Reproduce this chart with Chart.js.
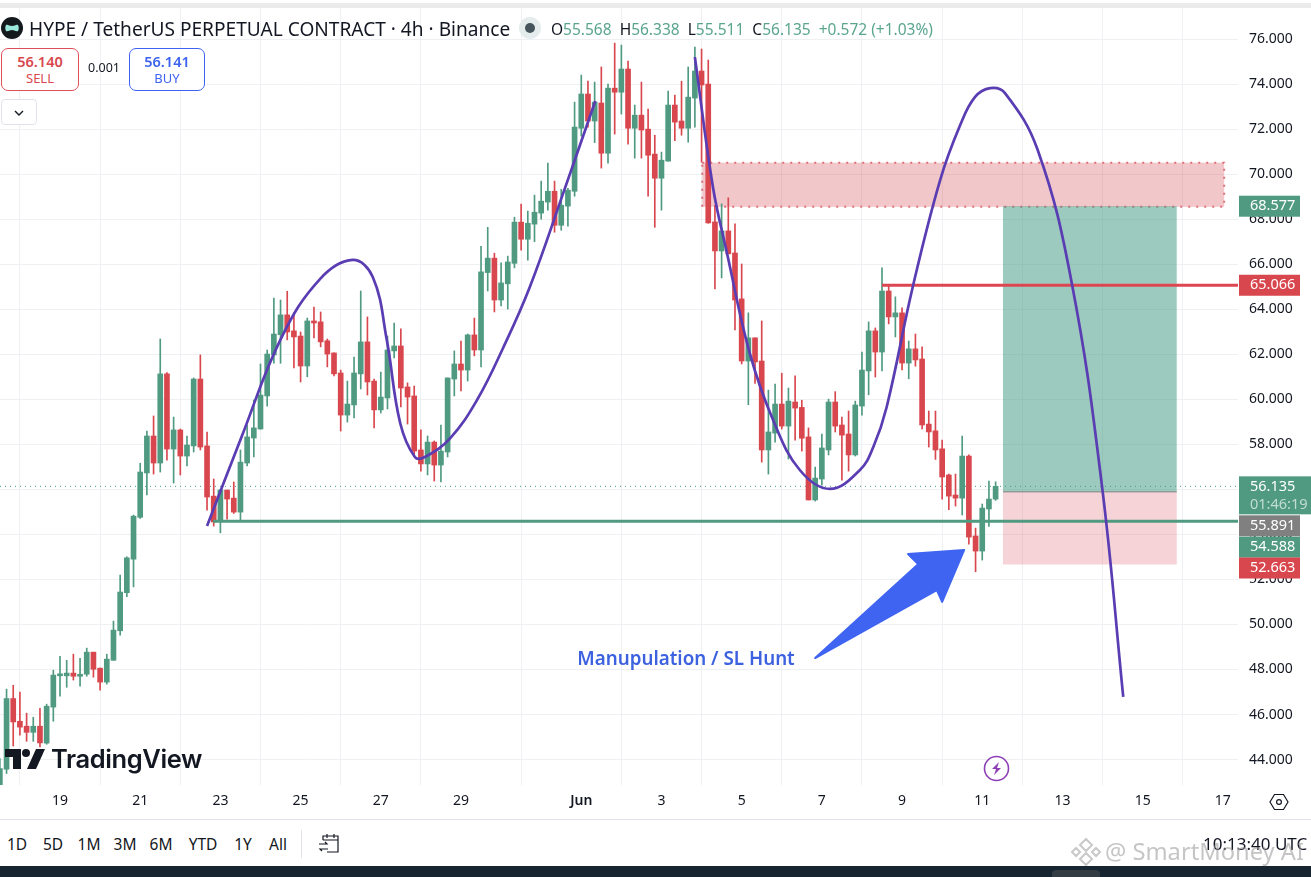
<!DOCTYPE html>
<html>
<head>
<meta charset="utf-8">
<title>HYPE / TetherUS PERPETUAL CONTRACT</title>
<script src="https://cdn.jsdelivr.net/npm/chart.js@4/dist/chart.umd.min.js"></script>
<style>
html, body { margin: 0; padding: 0; background: #fff; overflow: hidden; }
body { width: 1311px; height: 877px; position: relative; font-family: "Noto Sans", sans-serif; color: #131722; }
canvas { position: absolute; left: 0; top: 0; }
.abs { position: absolute; white-space: nowrap; }
.btn { position: absolute; top: 48px; height: 41px; border: 1px solid; border-radius: 7px; text-align: center; background: #fff; }
.btn b { display: block; font-size: 14.5px; line-height: 17px; margin-top: 4px; font-weight: 600; }
.btn span { display: block; font-size: 13px; line-height: 17px; }
.range { position: absolute; top: 833px; font-size: 15.5px; line-height: 22px; transform: translateX(-50%); }
.g { color: #5aa58e; }
</style>
</head>
<body>
<canvas id="grafico" width="1311" height="820"></canvas>

<div class="abs" style="left:0;top:3px;width:1311px;height:5px;background:#ebebeb"></div>

<svg class="abs" style="left:1px;top:17px" width="22" height="22" viewBox="0 0 22 22">
  <circle cx="11" cy="11" r="11" fill="#14191d"/>
  <path d="M5 8c2-1 3 1 6 1s4-2 6-1c1 2 1 4 0 6-2 1-3-1-6-1s-4 2-6 1c-1-2-1-4 0-6z" fill="#9be8dc"/>
</svg>
<div class="abs" id="titulo" style="left:29px;top:15px;font-size:19.1px;line-height:28px">HYPE / TetherUS PERPETUAL CONTRACT · 4h · Binance</div>
<svg class="abs" style="left:519px;top:17px" width="22" height="22"><circle cx="11" cy="11" r="11" fill="#e4ecec"/><circle cx="11" cy="11" r="5" fill="#46555c"/></svg>
<div class="abs" style="left:551px;top:18px;font-size:15.5px;line-height:22px">O<span class="g">55.568</span>&nbsp; H<span class="g">56.338</span>&nbsp; L<span class="g">55.511</span>&nbsp; C<span class="g">56.135</span>&nbsp; <span class="g">+0.572 (+1.03%)</span></div>

<div class="btn" style="left:1px;width:76px;border-color:#dc5159;color:#d9474e"><b>56.140</b><span>SELL</span></div>
<div class="abs" style="left:88px;top:59px;font-size:12.5px;line-height:18px">0.001</div>
<div class="btn" style="left:129px;width:74px;border-color:#3d63f0;color:#3d63f0"><b>56.141</b><span>BUY</span></div>
<div class="abs" style="left:1px;top:99px;width:34px;height:24px;border:1px solid #e0e3eb;border-radius:4px;background:#fff">
  <svg width="34" height="24"><path d="M13 11l4 4 4-4" fill="none" stroke="#131722" stroke-width="1.4"/></svg>
</div>

<svg class="abs" style="left:5px;top:748px" width="40" height="22" viewBox="0 0 40 22">
  <path d="M0 1h16v20H8V9H0z" fill="#131722"/>
  <circle cx="21" cy="5" r="4" fill="#131722"/>
  <path d="M31 1h9l-9 20h-9z" fill="#131722"/>
</svg>
<div class="abs" style="left:51px;top:742px;font-family:Inter,sans-serif;font-weight:600;font-size:25.5px;line-height:34px;letter-spacing:-0.4px">TradingView</div>

<svg class="abs" style="left:983px;top:755px" width="27" height="27" viewBox="0 0 27 27">
  <circle cx="13.5" cy="13.5" r="12" fill="#fff" stroke="#8e3fb5" stroke-width="1.6"/>
  <path d="M16 7l-7 7h4l-2 6 7-7h-4z" fill="#8e3fb5"/>
</svg>
<svg class="abs" style="left:1269px;top:793px" width="20" height="18" viewBox="0 0 20 18">
  <path d="M5.5 1.5h9L19 9l-4.5 7.5h-9L1 9z" fill="none" stroke="#131722" stroke-width="1.2"/>
  <circle cx="10" cy="9" r="2.4" fill="none" stroke="#131722" stroke-width="1.2"/>
</svg>

<div class="abs" style="left:0;top:819px;width:1311px;height:1px;background:#e0e3eb"></div>
<div class="range" style="left:17px">1D</div>
<div class="range" style="left:53px">5D</div>
<div class="range" style="left:89px">1M</div>
<div class="range" style="left:125px">3M</div>
<div class="range" style="left:161px">6M</div>
<div class="range" style="left:203px">YTD</div>
<div class="range" style="left:243px">1Y</div>
<div class="range" style="left:278px">All</div>
<div class="abs" style="left:301px;top:830px;width:1px;height:28px;background:#e0e3eb"></div>
<svg class="abs" style="left:318px;top:832px" width="24" height="24" viewBox="0 0 24 24">
  <path d="M5 8V4h15v16H9M5 8h15M9 2v4M16 2v4" fill="none" stroke="#131722" stroke-width="1.2"/>
  <path d="M1 12h8l-2-2M10 17H2l2 2" fill="none" stroke="#131722" stroke-width="1.2"/>
</svg>
<div class="abs" style="left:1203px;top:833px;font-size:17px;line-height:22px">10:13:40 UTC</div>

<svg class="abs" style="left:1070px;top:836px" width="32" height="32" viewBox="0 0 32 32">
  <path d="M16 3l6 6-6 6-6-6zM6 12l4 4-4 4-4-4zM26 12l4 4-4 4-4-4zM16 17l6 6-6 6-6-6z" fill="none" stroke="#c9c9c9" stroke-width="2"/>
</svg>
<div class="abs" style="left:1105px;top:835px;font-size:23.7px;line-height:32px;color:rgba(150,150,150,.55)">@ SmartMoney AI</div>
<div class="abs" style="left:0;top:866px;width:1311px;height:11px;background:#16252f"></div>
<div class="abs" style="left:1052px;top:870px;width:48px;height:7px;background:#333c42;border-radius:4px 4px 0 0"></div>

<script>
// 4h candles, May 19 00:00 is index 0
const primeiroIndice = -9;
const aberturas = [42.86,43.57,46.71,45.7,45.48,45.21,45.48,44.73,46.33,47.72,47.72,47.84,47.7,47.79,48.77,48.06,47.44,48.41,49.72,51.41,52.9,54.76,56.73,58.37,57.17,61.13,57.79,58.64,57.48,57.93,60.9,57.93,55.7,54.64,55.97,55.61,54.99,57.17,58.28,58.68,60.15,61.97,62.87,63.75,63.04,62.81,61.48,63.48,63.44,62.6,62.06,61.17,59.3,59.75,61.13,62.55,60.81,59.53,60.06,62.15,62.37,60.55,60.15,57.75,57.13,58.1,57.08,57.66,60.9,61.57,61.3,62.86,62.19,65.63,66.27,64.41,65.13,66.04,67.87,67.11,67.78,68.27,68.76,69.24,67.73,68.58,69.24,72.04,73.56,72.36,73.16,70.93,73.82,73.64,74.67,72.04,72.62,72,70.89,69.82,70.58,73.07,72.36,72.04,73.38,74.58,74,67.88,66.59,67.48,66.5,64.46,61.7,62.73,61.7,57.75,58.5,59.79,58.81,59.88,59.64,58.33,55.53,56.46,57.75,59.88,58.86,58.46,57.53,59.7,61.26,63.04,62.1,64.81,63.66,63.84,61.61,62.24,61.79,58.9,58.6,57.8,56.64,55.75,55.61,57.48,53.93,53.26,55.13,55.568];
const maximos = [44.04,47.13,47.3,47,46.06,45.88,46.27,46.46,47.97,48.59,48.41,48.68,48.5,48.95,48.77,48.06,48.68,50.15,52.19,53,54.86,57.16,58.59,59.26,62.68,61.19,59.21,58.68,58.37,60.95,61.97,58.55,56.46,56,55.97,56.33,57.75,58.86,59.97,61.57,62.19,64.5,64.41,64.8,63.84,62.99,63.61,64.1,63.88,62.68,62.06,61.3,60.81,61.88,64.81,63.66,60.9,61.21,62.81,63.39,63.13,60.73,60.59,58.64,58.37,58.15,58.86,60.95,62.15,62.59,62.9,63.61,66.8,67.64,66.49,66.06,66.36,68.09,68.67,68.36,69.07,69.69,70.49,69.69,69.33,69.37,73.2,74.4,74.13,74.09,74.76,74,75.82,75.73,75.02,73.07,74.09,72.89,71.73,70.98,73.69,73.51,74.13,74.76,75.64,75.56,75.07,68.62,68.68,68.95,67.79,66.01,63.84,62.73,63.48,60.41,60.68,61.16,60.5,61.04,59.96,58.73,56.99,58.46,60.01,60.34,59.21,59.48,59.92,62.1,63.44,63.17,65.84,65.07,64.55,64.06,62.59,62.9,62.33,59.48,59.48,58.19,56.68,56.68,58.37,57.53,54.28,55.35,56.37,56.338];
const minimos = [42.8,43.38,44.6,45.08,44.81,44.81,44.56,44.68,45.7,46.81,47.21,47.53,47.26,47.7,47.66,47.08,47.35,48.41,49.53,51.23,51.67,54.71,55.75,56.68,56.77,57.3,56.28,56.64,57.04,57.66,57.75,55.08,54.37,54.07,54.68,54.93,54.64,57.04,57.44,58.68,59.7,61.6,61.6,62.64,61.39,60.77,61,62.73,62.33,61.44,61.04,58.59,58.99,59.17,60.46,60.19,58.73,59.39,59.57,61.84,59.66,58.9,57.48,56.81,56.64,56.37,56.33,57.44,60.15,60.37,60.81,61.93,61.44,64.81,63.88,64.15,64.01,65.84,66.62,66.18,67,68,68.4,67.42,67.51,67.69,69.02,71.69,72.09,71.4,70.27,70.49,71.78,72.67,71.33,70.71,70.71,69.02,67.64,68.4,70.58,71.49,71.73,71.42,72.09,70.53,67.82,64.9,65.39,66.46,63.08,61.57,59.76,60.71,57.21,56.68,58.1,58.68,57.35,58.19,57.7,55.53,55.48,56.19,57.53,58.55,56.41,56.81,57.48,59.3,60.2,60.99,61.26,63.35,62.77,61.3,60.91,61.47,58.68,57.88,57.33,55.57,55.1,55.26,54.86,53.57,52.34,52.86,54.36,55.511];
const fechamentos = [43.6,46.71,45.67,45.44,45.21,45.48,44.74,46.37,47.75,47.75,47.84,47.7,47.79,48.77,48.01,47.44,48.46,49.75,51.44,52.96,54.81,56.77,58.37,57.17,61.13,57.79,58.64,57.48,57.97,60.9,57.88,55.66,54.55,55.97,55.57,54.99,57.21,58.33,58.73,60.19,62.01,62.9,63.75,62.99,62.77,61.48,63.48,63.39,62.55,62.01,61.13,59.3,59.79,61.17,62.55,60.77,59.53,60.1,62.19,62.37,60.5,60.1,57.7,57.13,58.1,57.08,57.7,60.95,61.57,61.3,62.86,62.19,65.66,66.27,64.41,65.17,66.1,67.87,67.11,67.82,68.31,68.8,69.24,67.73,68.62,69.29,72.09,73.56,72.36,73.2,70.93,73.82,73.64,74.67,72.04,72.62,71.96,70.84,69.82,70.62,73.07,72.31,72.04,73.42,74.58,73.96,67.84,66.59,67.48,66.46,64.41,61.7,62.73,61.66,57.75,58.55,59.79,58.81,59.92,59.61,58.27,55.53,56.5,57.84,59.88,58.81,58.41,57.53,59.75,61.3,63.04,62.1,64.81,63.66,63.84,61.61,62.24,61.75,58.86,58.55,57.75,56.55,55.7,55.61,57.48,53.88,53.26,55.17,55.57,56.135];

// x axis tick positions (candle index) and labels
const posicoesEixoX = [0,12,24,36,48,60,78,90,102,114,126,138,150,162,174];
const rotulosEixoX = ['19','21','23','25','27','29','Jun','3','5','7','9','11','13','15','17'];

// hand drawn purple curves [index, price]
const curvaX1 = [22,27.1,33.1,38.9,43.8,46.8,48.9,50.9,53.1,54.6,58.4,62.4,66.3,70.3,75.3,80.1];
const curvaY1 = [54.37,58.28,62.72,65.34,66.19,65.43,62.63,58.95,57.44,57.44,58.28,59.97,62.28,64.99,69.16,73.25];
const curvaX2 = [95,97.7,99.8,103.2,106.7,110.7,115.2,119.7,121.7,123.7,127.6,131.7,134.7,136.9,139.2,141.4,146.3,151.4,155.9,159.1];
const curvaY2 = [75.2,69.43,66.5,62.06,59.08,56.86,56.02,56.86,57.88,59.66,64.99,69.74,72.18,73.42,73.82,73.6,71.07,65.16,56.19,46.78];

// drawn levels and boxes
const precoAtual = 56.135;
const linhaVerde = { de: 22.9, nivel: 54.588 };
const linhaVermelha = { de: 123, nivel: 65.066 };
const zonaOferta = { de: 96.1, ate: 174.2, topo: 70.51, base: 68.55 };
const posicaoLonga = { de: 141.1, ate: 167.1, alvo: 68.577, entrada: 55.891, stop: 52.663 };

// blue arrow outline [index, price]
const setaX = [135.3,126.9,128.4,113,131.2,132];
const setaY = [53.31,53.13,52.68,48.51,51.53,51];

// tags on the price axis
const etiquetasPreco = [68.577,65.066,56.135,55.891,54.588,52.663];
const etiquetasCor = ['#4f9a80','#d9474e','#4f9a80','#808080','#4f9a80','#d9474e'];
const etiquetasDesvio = [0,0,0.5,34,26,3.5];

const verde = '#4f9a80';
const vermelho = '#d9474e';
const fonteEixo = '"Noto Sans", sans-serif';

const indices = aberturas.map((_, i) => i + primeiroIndice);
const corCandle = aberturas.map((o, i) => fechamentos[i] >= o ? verde : vermelho);

const desenhos = {
    id: 'desenhos',
    beforeDatasetsDraw(chart) {
        const { ctx, scales: { x, y } } = chart;
        ctx.save();
        const retangulo = (b, t, cor, de, ate) => {
            ctx.fillStyle = cor;
            ctx.fillRect(x.getPixelForValue(de), y.getPixelForValue(t), x.getPixelForValue(ate) - x.getPixelForValue(de), y.getPixelForValue(b) - y.getPixelForValue(t));
        };
        // zona vermelha
        retangulo(zonaOferta.base, zonaOferta.topo, 'rgba(210,70,80,.3)', zonaOferta.de, zonaOferta.ate);
        ctx.setLineDash([2, 6]);
        ctx.lineWidth = 2;
        ctx.strokeStyle = 'rgba(222,105,115,.95)';
        ctx.strokeRect(x.getPixelForValue(zonaOferta.de), y.getPixelForValue(zonaOferta.topo), x.getPixelForValue(zonaOferta.ate) - x.getPixelForValue(zonaOferta.de), y.getPixelForValue(zonaOferta.base) - y.getPixelForValue(zonaOferta.topo));
        ctx.setLineDash([]);
        // posicao long
        retangulo(posicaoLonga.entrada, posicaoLonga.alvo, 'rgba(60,150,125,.5)', posicaoLonga.de, posicaoLonga.ate);
        retangulo(posicaoLonga.stop, posicaoLonga.entrada, 'rgba(218,80,95,.25)', posicaoLonga.de, posicaoLonga.ate);
        ctx.restore();
    },
    afterDatasetsDraw(chart) {
        const { ctx, scales: { x, y } } = chart;
        ctx.save();
        // seta azul
        ctx.beginPath();
        setaX.forEach((v, i) => {
            const px = x.getPixelForValue(v), py = y.getPixelForValue(setaY[i]);
            if (i === 0) ctx.moveTo(px, py); else ctx.lineTo(px, py);
        });
        ctx.closePath();
        ctx.fillStyle = '#3f64f2';
        ctx.strokeStyle = '#3f64f2';
        ctx.lineWidth = 2;
        ctx.lineJoin = 'round';
        ctx.fill();
        ctx.stroke();
        // texto da seta
        ctx.fillStyle = '#3c62e0';
        ctx.font = '600 18.8px "Noto Sans", sans-serif';
        ctx.textAlign = 'left';
        ctx.textBaseline = 'middle';
        ctx.fillText('Manupulation / SL Hunt', x.getPixelForValue(77.4), y.getPixelForValue(48.45));
        // etiquetas
        ctx.font = '14.5px ' + fonteEixo;
        etiquetasPreco.forEach((v, i) => {
            const cy = y.getPixelForValue(v) + etiquetasDesvio[i];
            if (v === precoAtual) {
                ctx.fillStyle = etiquetasCor[i];
                ctx.fillRect(1239, cy - 10.5, 72, 38);
                ctx.fillStyle = '#fff';
                ctx.fillText(v.toFixed(3), 1250, cy);
                ctx.fillStyle = 'rgba(255,255,255,.65)';
                ctx.fillText('01:46:19', 1250, cy + 18);
            } else {
                ctx.fillStyle = etiquetasCor[i];
                ctx.fillRect(1239, cy - 10.5, 61, 21);
                ctx.fillStyle = '#fff';
                ctx.fillText(v.toFixed(3), 1250, cy);
            }
        });
        ctx.restore();
    }
};

const xMin = -8.98, xMax = 176.27;

new Chart(document.getElementById('grafico').getContext('2d'), {
    type: 'bar',
    plugins: [desenhos],
    data: {
        datasets: [
            {
                label: 'Wicks',
                data: indices.map((v, i) => ({ x: v, y: [minimos[i], maximos[i]] })),
                backgroundColor: corCandle,
                barThickness: 1,
                grouped: false,
                order: 6
            },
            {
                label: 'Bodies',
                data: indices.map((v, i) => ({ x: v, y: [Math.min(aberturas[i], fechamentos[i]), Math.max(aberturas[i], fechamentos[i])] })),
                backgroundColor: corCandle,
                barThickness: 5,
                minBarLength: 2,
                grouped: false,
                order: 5
            },
            {
                type: 'line',
                label: 'Last price',
                data: [{ x: xMin, y: precoAtual }, { x: xMax, y: precoAtual }],
                borderColor: '#3f9e85',
                borderWidth: 1,
                borderDash: [1, 4],
                pointRadius: 0,
                order: 7
            },
            {
                type: 'line',
                label: 'Entry',
                data: [{ x: posicaoLonga.de, y: posicaoLonga.entrada }, { x: posicaoLonga.ate, y: posicaoLonga.entrada }],
                borderColor: '#808080',
                borderWidth: 1,
                pointRadius: 0,
                order: 4
            },
            {
                type: 'line',
                label: 'Support',
                data: [{ x: linhaVerde.de, y: linhaVerde.nivel }, { x: xMax, y: linhaVerde.nivel }],
                borderColor: verde,
                borderWidth: 3,
                pointRadius: 0,
                order: 3
            },
            {
                type: 'line',
                label: 'Resistance',
                data: [{ x: linhaVermelha.de, y: linhaVermelha.nivel }, { x: xMax, y: linhaVermelha.nivel }],
                borderColor: '#dd4650',
                borderWidth: 3,
                pointRadius: 0,
                order: 3
            },
            {
                type: 'line',
                label: 'Curve 1',
                data: curvaX1.map((v, i) => ({ x: v, y: curvaY1[i] })),
                borderColor: '#5a3db3',
                borderWidth: 2.7,
                tension: 0.4,
                pointRadius: 0,
                order: 1
            },
            {
                type: 'line',
                label: 'Curve 2',
                data: curvaX2.map((v, i) => ({ x: v, y: curvaY2[i] })),
                borderColor: '#5a3db3',
                borderWidth: 2.7,
                tension: 0.4,
                pointRadius: 0,
                order: 1
            }
        ]
    },
    options: {
        responsive: false,
        animation: false,
        layout: { padding: { top: 8, left: 0, right: 0, bottom: 0 } },
        plugins: { legend: { display: false }, tooltip: { enabled: false } },
        scales: {
            x: {
                type: 'linear',
                offset: false,
                min: xMin,
                max: xMax,
                border: { display: false },
                grid: { color: '#eff0f3', drawTicks: false },
                afterBuildTicks: scale => { scale.ticks = posicoesEixoX.map(v => ({ value: v })); },
                afterFit: scale => { scale.height = 35; scale.paddingLeft = 0; scale.paddingRight = 0; },
                ticks: {
                    autoSkip: false,
                    maxRotation: 0,
                    padding: 8,
                    color: '#131722',
                    font: ctx => ({ family: fonteEixo, size: 14, weight: ctx.tick && ctx.tick.value === 78 ? '600' : '400' }),
                    callback: v => rotulosEixoX[posicoesEixoX.indexOf(v)]
                }
            },
            y: {
                position: 'right',
                min: 42.87,
                max: 77.38,
                border: { display: false },
                grid: { color: '#eff0f3', drawTicks: false },
                afterFit: scale => { scale.width = 73; scale.paddingTop = 0; scale.paddingBottom = 0; },
                ticks: {
                    stepSize: 2,
                    includeBounds: false,
                    autoSkip: false,
                    padding: 11,
                    color: '#131722',
                    font: { family: fonteEixo, size: 14 },
                    callback: v => v.toFixed(3)
                }
            }
        }
    }
});
</script>
</body>
</html>
